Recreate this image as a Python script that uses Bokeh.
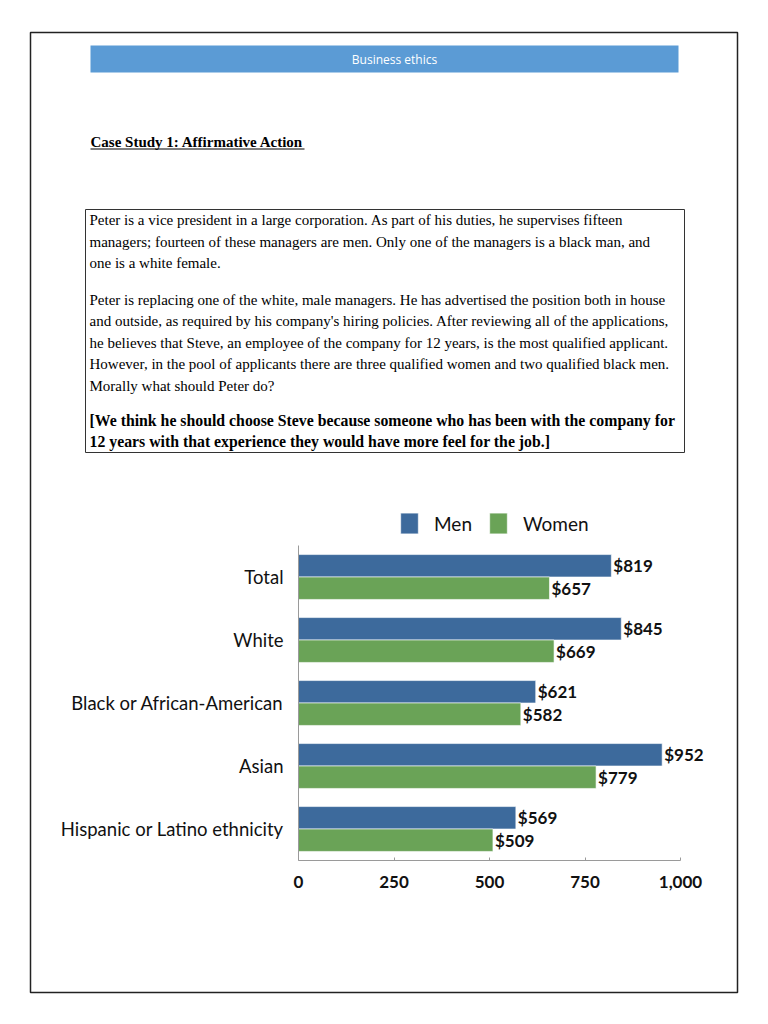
from bokeh.plotting import figure
from bokeh.models import (ColumnDataSource, Range1d, LinearAxis, Legend,
                          LegendItem, NumeralTickFormatter, FixedTicker)
from bokeh.core.properties import value
from bokeh.transform import dodge
from bokeh.embed import file_html
from bokeh.resources import INLINE

# ---------------- data ----------------
categories = ["Total", "White", "Black or African-American", "Asian",
              "Hispanic or Latino ethnicity"]
men = [819, 845, 621, 952, 569]
women = [657, 669, 582, 779, 509]
series_names = ["Men", "Women"]
x_ticks = [0, 250, 500, 750, 1000]

header_text = "Business ethics"
case_title = "Case Study 1: Affirmative Action"
box_lines = [
    "Peter is a vice president in a large corporation. As part of his duties, he supervises fifteen",
    "managers; fourteen of these managers are men. Only one of the managers is a black man, and",
    "one is a white female.",
    "Peter is replacing one of the white, male managers. He has advertised the position both in house",
    "and outside, as required by his company's hiring policies. After reviewing all of the applications,",
    "he believes that Steve, an employee of the company for 12 years, is the most qualified applicant.",
    "However, in the pool of applicants there are three qualified women and two qualified black men.",
    "Morally what should Peter do?",
]
bold_lines = [
    "[We think he should choose Steve because someone who has been with the company for",
    "12 years with that experience they would have more feel for the job.]",
]

MEN_COLOR = "#3D6A9C"
WOMEN_COLOR = "#6AA357"

# ---------------- layout constants (canvas pixels) ----------------
W, H = 760, 1010
CH_L, CH_R, CH_T, CH_B = 298, 680, 545, 860     # chart plot area
XMAX = 1000
KX = (CH_R - CH_L) / XMAX                        # px per value unit
NCAT = len(categories)
BAND = (CH_B - CH_T) / NCAT                      # px per category

x_range = Range1d(-CH_L / KX, (W - CH_L) / KX)
y_range = Range1d(-0.5 - (H - CH_B) / BAND, -0.5 + CH_B / BAND)

p = figure(width=W, height=H, output_backend="svg", toolbar_location=None,
           x_range=x_range, y_range=y_range, x_axis_location=None,
           y_axis_location=None, min_border=0, outline_line_color=None)
p.grid.visible = False
p.extra_x_ranges = {"px": Range1d(0, W)}
p.extra_y_ranges = {"py": Range1d(H, 0)}
PG = dict(x_range_name="px", y_range_name="py")

# ---------------- document decorations ----------------
p.quad(left=[30], right=[737], top=[32], bottom=[992], fill_color=None,
       line_color="#222222", line_width=1.5, **PG)
p.quad(left=[90], right=[678], top=[45], bottom=[72], fill_color="#5B9BD5",
       line_color=None, **PG)
p.text(x=[394], y=[59], text=[header_text], text_align="center",
       text_baseline="middle", text_font=value("Open Sans"),
       text_font_size="12px", text_color="white", **PG)
p.text(x=[90], y=[141], text=[case_title], text_align="left",
       text_baseline="middle", text_font=value("Liberation Serif"),
       text_font_size="15px", text_font_style="bold", text_color="black", **PG)
p.segment(x0=[90], y0=[148.5], x1=[304], y1=[148.5], line_color="black",
          line_width=1.2, **PG)
p.quad(left=[85], right=[684], top=[209], bottom=[452], fill_color=None,
       line_color="#333333", line_width=1, **PG)
line_y = [219, 241, 262, 299, 320, 342, 363, 385]
p.text(x=[89] * len(box_lines), y=line_y, text=box_lines, text_align="left",
       text_baseline="middle", text_font=value("Liberation Serif"),
       text_font_size="15px", text_color="black", **PG)
p.text(x=[89] * len(bold_lines), y=[420, 441], text=bold_lines,
       text_align="left", text_baseline="middle",
       text_font=value("Liberation Serif"), text_font_size="15.8px",
       text_font_style="bold", text_color="black", **PG)

# ---------------- chart ----------------
pos = [NCAT - 1 - i for i in range(NCAT)]   # Total at top
src = ColumnDataSource(dict(pos=pos, men=men, women=women,
                            men_lbl=["$%d" % v for v in men],
                            women_lbl=["$%d" % v for v in women]))
OFF, HT = 0.178, 0.356
r_men = p.hbar(y=dodge("pos", OFF), right="men", left=0, height=HT,
               source=src, fill_color=MEN_COLOR, line_color="white",
               line_width=0.6)
r_women = p.hbar(y=dodge("pos", -OFF), right="women", left=0, height=HT,
                 source=src, fill_color=WOMEN_COLOR, line_color="white",
                 line_width=0.6)
for col, lbl, off in (("men", "men_lbl", OFF), ("women", "women_lbl", -OFF)):
    p.text(x=col, y=dodge("pos", off), text=lbl, source=src, x_offset=2,
           text_baseline="middle", text_align="left", text_font_size="17px",
           text_font=value("Lato"), text_color="#111111",
           text_font_style="bold")

xa = LinearAxis(fixed_location=-0.5, bounds=(0, XMAX),
                ticker=FixedTicker(ticks=x_ticks),
                formatter=NumeralTickFormatter(format="0,0"))
xa.axis_line_color = "#9a9a9a"
xa.major_tick_line_color = "#9a9a9a"
xa.major_tick_in = 3
xa.major_tick_out = 0
xa.minor_tick_line_color = None
xa.major_label_text_font = "Lato"
xa.major_label_text_font_size = "17px"
xa.major_label_text_font_style = "bold"
xa.major_label_text_color = "#111111"
xa.major_label_standoff = 15
p.add_layout(xa, "below")

ya = LinearAxis(fixed_location=0, bounds=(-0.5, NCAT - 0.5),
                ticker=FixedTicker(ticks=pos),
                major_label_overrides={pp: c for pp, c in zip(pos, categories)})
ya.axis_line_color = "#9a9a9a"
ya.major_tick_line_color = None
ya.major_tick_in = 0
ya.major_tick_out = 0
ya.minor_tick_line_color = None
ya.major_label_text_font = "Lato"
ya.major_label_text_font_size = "18.5px"
ya.major_label_text_color = "#111111"
ya.major_label_standoff = 15
p.add_layout(ya, "left")

legend = Legend(items=[LegendItem(label=series_names[0], renderers=[r_men]),
                       LegendItem(label=series_names[1], renderers=[r_women])],
                orientation="horizontal", location=(398, H - 536),
                glyph_width=22, glyph_height=26, label_standoff=14, spacing=15,
                padding=0, margin=0, border_line_color=None,
                background_fill_alpha=0, label_text_font="Lato",
                label_text_font_size="19px", label_text_color="#111111")
p.add_layout(legend, "center")

open("out.html", "w").write(file_html(p, INLINE))
